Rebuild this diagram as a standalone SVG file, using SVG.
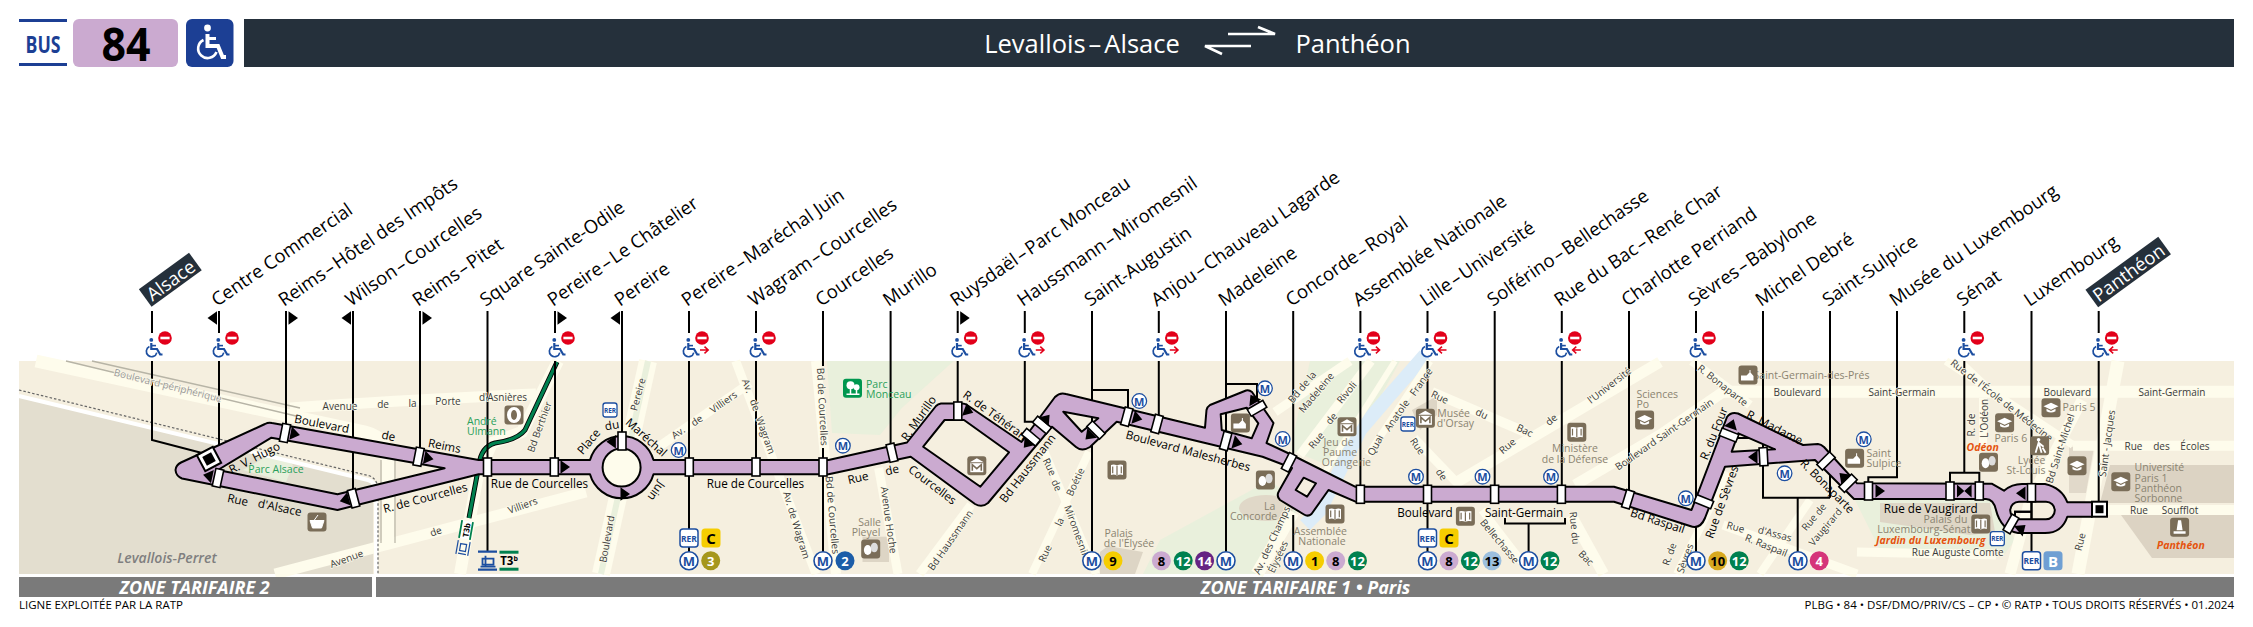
<svg xmlns="http://www.w3.org/2000/svg" xmlns:xlink="http://www.w3.org/1999/xlink" width="2253" height="627" viewBox="0 0 2253 627">
<style>
text{font-family:"Open Sans","Noto Sans","Liberation Sans",sans-serif;dominant-baseline:central}
.lb{font-size:18.5px;fill:#000;dominant-baseline:auto}
.st{font-size:10px;fill:#3a3a3a;text-anchor:middle;paint-order:stroke;stroke:#fdfaea;stroke-width:1.5px}
.bd{font-size:11.7px;fill:#000;text-anchor:middle}
.gr{font-size:10.500px;fill:#8b8471;text-anchor:middle}
.gl{font-size:10.500px;fill:#8b8471;text-anchor:start}
.gn{font-size:10.500px;fill:#2a9f5b}
.or{font-size:10.500px;fill:#e5540f;font-style:italic;font-weight:700;text-anchor:middle}
.conn{fill:none;stroke:#000;stroke-width:2}
.str{fill:none;stroke:#fefcec;stroke-linecap:butt}
.bus{fill:#cbaad0;stroke:#000;stroke-width:2;stroke-linejoin:round;fill-rule:evenodd}
.stop{fill:#fff;stroke:#000;stroke-width:1.6}
.b{font-size:13px;font-weight:700;text-anchor:middle}
.wh{fill:#fff}.bk{fill:#000}
.m{font-size:13px;font-weight:700;fill:#1c4ea0;text-anchor:middle}
.ms{font-size:11px;font-weight:700;fill:#1c4ea0;text-anchor:middle}
.rer{font-size:8.5px;font-weight:700;fill:#1c4ea0;text-anchor:middle}
.rs{font-size:6.5px;font-weight:700;fill:#1c4ea0;text-anchor:middle}
</style>
<defs>
<rect id="stop" class="stop" x="-4" y="-9" width="8" height="18"/>
<path id="tr" d="M-4.5,-6.8 L5,0 L-4.5,6.8Z"/>
<g id="wc" fill="none" stroke="#1c4ea0" stroke-width="1.7">
<circle cx="5.3" cy="1.9" r="1.9" fill="#1c4ea0" stroke="none"/>
<path d="M5.3,5 V11 H11 L14.2,16.5 H16.5" stroke-width="2.2"/><path d="M5.3,7.6 H10" stroke-width="1.6"/>
<path d="M3.4,8.6 A5.3,5.3 0 1 0 10.8,14.6"/>
</g>
<g id="ne"><circle r="6.8" fill="#e2001a"/><rect x="-4.6" y="-1.3" width="9.2" height="2.6" fill="#fff"/></g>
<path id="ar" d="M0,0 H8 M4.5,-3.4 L8.2,0 L4.5,3.4" fill="none" stroke="#e2001a" stroke-width="1.5"/>
<path id="al" d="M8,0 H0 M3.5,-3.4 L-.2,0 L3.5,3.4" fill="none" stroke="#e2001a" stroke-width="1.5"/>
<circle id="mr" r="9" fill="#fff" stroke="#1c4ea0" stroke-width="1.6"/>
<circle id="mq" r="7.3" fill="#fff" stroke="#1c4ea0" stroke-width="1.3"/>
<rect id="rr" x="-9" y="-9" width="18" height="18" rx="3" fill="#fff" stroke="#1c4ea0" stroke-width="1.5"/>
<rect id="rq" x="-7" y="-7" width="14" height="14" rx="2.5" fill="#fff" stroke="#1c4ea0" stroke-width="1.3"/>
<rect id="p" x="-9.5" y="-9.5" width="19" height="19" rx="3" fill="#7a6d58"/>
<g id="book"><use href="#p"/><path d="M-6,-5 Q-3,-6 0,-4.5 Q3,-6 6,-5 V5 Q3,4 0,5.5 Q-3,4 -6,5Z" fill="#fff"/><path d="M0,-4 V5 M-4.3,-3.6 V3.2 M4.3,-3.6 V3.2" stroke="#7a6d58" stroke-width="1.2"/></g>
<g id="grad"><use href="#p"/><path d="M-7.5,-1.5 L0,-5 L7.5,-1.5 L0,2Z" fill="#fff"/><path d="M-4.5,1 V3.5 Q0,6 4.5,3.5 V1 L0,3.2Z" fill="#fff"/></g>
<g id="church"><use href="#p"/><path d="M-7,5.5 V0.5 H-1.5 L1.5,-2.5 V-5 H2.5 V-2.5 L5.5,1 V5.5Z" fill="#fff"/></g>
<g id="masks"><use href="#p"/><ellipse cx="-3" cy="1" rx="3.8" ry="5" fill="#fff"/><ellipse cx="3.6" cy="-1.5" rx="3.6" ry="4.8" fill="#ddd"/></g>
<g id="mus"><use href="#p"/><path d="M-7,-3.5 L0,-7.5 L7,-3.5Z" fill="#fff"/><rect x="-6.5" y="-2.5" width="13" height="9" fill="#fff"/><path d="M-4.5,5 V-1 L0,3 L4.5,-1 V5" fill="none" stroke="#7a6d58" stroke-width="1.6"/></g>
</defs>
<rect width="2253" height="627" fill="#fff"/>

<g id="header">
<rect x="19" y="19" width="48" height="3" fill="#1c3f94"/><rect x="19" y="63" width="48" height="3" fill="#1c3f94"/>
<text x="43" y="43" font-size="24" font-weight="700" fill="#1c3f94" text-anchor="middle" textLength="35" lengthAdjust="spacingAndGlyphs">BUS</text>
<rect x="73" y="19" width="105" height="48" rx="6" fill="#cbaad0"/>
<text x="126" y="43" font-size="46" font-weight="700" fill="#000" text-anchor="middle" textLength="49" lengthAdjust="spacingAndGlyphs">84</text>
<rect x="186" y="19" width="47.500" height="48" rx="6" fill="#1c3f94"/>
<g transform="translate(194,24)" fill="none" stroke="#fff" stroke-width="2.6"><circle cx="13.500" cy="4" r="3.400" fill="#fff" stroke="none"/><path d="M13.500,10 V22 H24 L28.500,33 H32" stroke-width="4"/><path d="M13.500,14.500 H22" stroke-width="3"/><path d="M9.500,16 A9.500,9.500 0 1 0 22.500,28"/></g>
<rect x="244" y="19" width="1990" height="48" fill="#25303b"/>
<text x="1082" y="43" font-size="25.500" fill="#fff" text-anchor="middle">Levallois<tspan dx="3">–</tspan><tspan dx="3">Alsace</tspan></text>
<text x="1353" y="43" font-size="25.500" fill="#fff" text-anchor="middle">Panthéon</text>
<path d="M1208,56 H1240 M1208,56 L1222,47 M1272,32 H1240 M1272,32 L1258,41 M1208,45 H1240" fill="none" stroke="none"/>
<path d="M1228,34 H1275 L1258,27 M1251,46 H1205 L1222,54" fill="none" stroke="#fff" stroke-width="2.600"/>
</g>

<g id="map">
<rect x="19" y="361" width="2215" height="213" fill="#f5efdf"/>
<path d="M19,396 L368,480 Q373,482 373,490 V574 H19Z" fill="#e3decf"/>
<path d="M826.800,361 H953.600 L901.800,408 L880,435 L832,433Z" fill="#e9f0dc"/>
<path d="M243,470 L275,452 L293,465 L286,482Z" fill="#e9f0dc"/>
<path d="M1310,361 H1400 L1340,470 L1290,450Z" fill="#e9f0dc"/>
<path d="M1143,574 L1160,540 L1270,480 L1300,505 L1262,574Z" fill="#e9f0dc"/>
<path d="M1854,498 H1988 L2015,540 L2004,555 L1880,550Z" fill="#e9f0dc"/>
<path d="M1880,503 H1990 L1995,532 L1970,535 L1880,522Z" fill="#ded6c6"/>
<path d="M2121,515 H2234 V558 H2152Z" fill="#dcd3c3"/>
<path d="M2110,465 H2234 V503 H2100Z" fill="#dcd3c3"/>
<path d="M2069,447 H2094 L2086,493 H2069Z" fill="#e1d9ca"/>
<rect x="862.500" y="536.700" width="26.500" height="25.300" fill="#ddd5c5"/>
<path d="M1100,574 V552 L1108,546 L1143,552 L1135,574Z" fill="#ddd5c5"/>
<ellipse cx="1266" cy="508" rx="27" ry="13" fill="#e0d8c8"/>
<path d="M1412,410 L1437,396 V415 L1420,430Z" fill="#ddd5c5"/>
<path d="M1425,355 L1390,395 L1360,430 L1320,510 L1305,525" fill="none" stroke="#dcecf8" stroke-width="14"/>
<g class="str">
<path d="M36,361 L365,432 Q388,438 388,462" stroke-width="13"/>
<path d="M388,455 V543" stroke-width="12"/>
<path d="M290,408 Q400,400 536,394" stroke-width="11"/>
<path d="M275,574 L586,492" stroke-width="11"/>
<path d="M558,361 L522,432 L492,443 L478,474 L460,574" stroke-width="12"/>
<path d="M648,361 L601,574" stroke-width="18"/>
<path d="M750,383 L657,448" stroke-width="9"/>
<path d="M735.700,361 L816,574" stroke-width="9"/>
<path d="M816,361 L836,574" stroke-width="10"/>
<path d="M878.600,468 L898,574" stroke-width="9"/>
<path d="M971,505 L919.600,574" stroke-width="9"/>
<path d="M1044.600,451.700 L1096,574" stroke-width="8"/>
<path d="M1089,451.700 L1032,574" stroke-width="8"/>
<path d="M1275,412 L1350,361" stroke-width="9"/>
<path d="M1300,455 L1371,361" stroke-width="9"/>
<path d="M1430,361 L1368,455" stroke-width="7"/>
<path d="M1395,361 L1345,440 L1320,480" stroke-width="6"/>
<path d="M1257,574 L1293,512" stroke-width="13"/>
<path d="M1432,392 L1525,432" stroke-width="10"/>
<path d="M1457,482 L1660,362" stroke-width="11"/>
<path d="M1414,438 L1460,486" stroke-width="9"/>
<path d="M1482,510 L1525,566" stroke-width="8"/>
<path d="M1571,515 L1603.600,574" stroke-width="11"/>
<path d="M1575,485 L1660,435 L1723,392" stroke-width="11"/>
<path d="M1722,391.700 H2234" stroke-width="12"/>
<path d="M2073,445.700 H2234" stroke-width="10"/>
<path d="M2107,510 H2234" stroke-width="10"/>
<path d="M2118,361 L2078,574" stroke-width="13"/>
<path d="M2082,400 L2030,500 L2010,574" stroke-width="11"/>
<path d="M1946,361 L2073,445" stroke-width="8"/>
<path d="M1983,398 V445" stroke-width="8"/>
<path d="M1692,361 L1750,405" stroke-width="9"/>
<path d="M1723,525 L1857,574" stroke-width="9"/>
<path d="M1810,500 L1760,574" stroke-width="8"/>
<path d="M1857,552 L1996,555" stroke-width="9"/>
<path d="M1727,472 L1700,528 L1677,574" stroke-width="8"/>
<path d="M1960,362 L2000,400" stroke-width="8"/>
</g>
<path d="M648,361 L601,574" fill="none" stroke="#e9f0dc" stroke-width="6"/>
<path d="M66,361 L296,416 M92,361 L300,408" fill="none" stroke="#b7b4a6" stroke-width="1.500"/>
<path d="M381,460 V543 M395,460 V543" fill="none" stroke="#b7b4a6" stroke-width="1.200"/>
<path d="M19,396 L368,480 Q376,482 376,492 V574" fill="none" stroke="#fff" stroke-width="4"/>
<path d="M19,390 L370,476 Q378,480 378,490 V574" fill="none" stroke="#666" stroke-width="1.200" stroke-dasharray="2.500 2"/>
<rect x="19" y="577" width="353" height="20" fill="#7a7a7a"/>
<rect x="376" y="577" width="1858" height="20" fill="#7a7a7a"/>
<path d="M557,362 L525,430 Q517,440 495,443 Q481,447 479,465 L469,518" fill="none" stroke="#000" stroke-width="5"/>
<path d="M557,362 L525,430 Q517,440 495,443 Q481,447 479,465 L469,518" fill="none" stroke="#00814f" stroke-width="3.200"/>
</g>

<g id="connectors" class="conn">
<path d="M152,311 V333 M152,361 V440 L202,453"/>
<path d="M219,311 V333 M219,361 V478"/>
<path d="M286,311 V432"/>
<path d="M353,311 V498"/>
<path d="M420,311 V456"/>
<path d="M487.500,311 V552"/>
<path d="M555,311 V333 M555,361 V467"/>
<path d="M622,311 V441"/>
<path d="M689,311 V333 M689,361 V530 M689,547 V552"/>
<path d="M756,311 V333 M756,361 V467"/>
<path d="M823,311 V366 M823,448 V552"/>
<path d="M890.600,311 V452"/>
<path d="M957.700,311 V333 M957.700,361 V411"/>
<path d="M1024.800,311 V333 M1024.800,361 V421.700 H1038"/>
<path d="M1092,311 V552 M1092,390 H1128 V415"/>
<path d="M1158.800,311 V333 M1158.800,361 V424"/>
<path d="M1226,311 V552 M1226,384 H1257 V408"/>
<path d="M1293.200,311 V460 M1293.200,515 V552"/>
<path d="M1360.400,311 V333 M1360.400,361 V494"/>
<path d="M1427.500,311 V333 M1427.500,361 V552"/>
<path d="M1494.700,311 V494"/>
<path d="M1561.800,311 V333 M1561.800,361 V494"/>
<path d="M1629,311 V499"/>
<path d="M1696,311 V333 M1696,361 V552"/>
<path d="M1763,311 V497.700 H1830 M1797.700,497.700 V552"/>
<path d="M1830,311 V497.700"/>
<path d="M1897,311 V477.300 H1868.300 V491"/>
<path d="M1964.300,311 V333 M1964.300,361 V472.700 M1950,491 V472.700 H1979.300 V491"/>
<path d="M2031.500,311 V552 M2031.500,511.700 H2015 V525"/>
<path d="M2098.700,311 V333 M2098.700,361 V509"/>
<path d="M1505,518 V523.500 H1565 V518 M1528.600,523.500 V552"/>
<path d="M1738,438 H1753"/>
</g>

<g id="streets">
<text class="st" transform="translate(168,385) rotate(14)" style="fill:#999">Boulevard périphérique</text>
<text class="st" x="340" y="405.700">Avenue</text><text class="st" x="383" y="404">de</text><text class="st" x="412.500" y="402.700">la</text><text class="st" x="448" y="400.700">Porte</text><text class="st" x="503" y="397.300">d'Asnières</text>
<text class="st" transform="translate(539,426.700) rotate(-70)">Bd Berthier</text>
<text class="st" transform="translate(522.500,505) rotate(-20)">Villiers</text>
<text class="st" transform="translate(435.700,531) rotate(-20)">de</text>
<text class="st" transform="translate(346.400,558.300) rotate(-20)">Avenue</text>
<text transform="translate(167,557.300)" font-size="14" font-style="italic" font-weight="600" fill="#7f7f7f" text-anchor="middle">Levallois-Perret</text>
<text class="gn" x="276" y="468.700" text-anchor="middle">Parc Alsace</text>
<text class="gn" x="467" y="421">André</text><text class="gn" x="467" y="431">Ulmann</text>
<text class="st" transform="translate(637.500,394.300) rotate(-75)">Pereire</text>
<text class="st" transform="translate(606.400,539) rotate(-80)">Boulevard</text>
<text class="st" transform="translate(677.900,432.300) rotate(-35)">Av.</text><text class="st" transform="translate(696.400,420) rotate(-35)">de</text><text class="st" transform="translate(723.200,401.700) rotate(-35)">Villiers</text>
<text class="st" transform="translate(748,385.700) rotate(70)">Av.</text><text class="st" transform="translate(755.400,405) rotate(70)">de</text><text class="st" transform="translate(766,435) rotate(70)">Wagram</text>
<text class="st" transform="translate(797,525) rotate(73)">Av. de Wagram</text>
<text class="st" transform="translate(823,406.700) rotate(87)">Bd de Courcelles</text>
<text class="st" transform="translate(833,515) rotate(85)">Bd de Courcelles</text>
<text class="gr" x="869.600" y="522.300">Salle</text><text class="gr" x="866" y="532.300">Pleyel</text>
<text class="gn" x="866" y="384.300">Parc</text><text class="gn" x="866" y="394.300">Monceau</text>
<text class="st" transform="translate(889.300,520) rotate(82)">Avenue Hoche</text>
<text class="st" transform="translate(950,540) rotate(-55)">Bd Haussmann</text>
<text class="st" transform="translate(1050,466.700) rotate(65)">Rue</text><text class="st" transform="translate(1057,485) rotate(65)">de</text>
<text class="st" transform="translate(1075,481.700) rotate(-65)">Boétie</text>
<text class="st" transform="translate(1076.800,530) rotate(70)">Miromesnil</text>
<text class="st" transform="translate(1059,521.700) rotate(-65)">la</text><text class="st" transform="translate(1044.600,553.300) rotate(-65)">Rue</text>
<text class="gr" x="1118.600" y="533.300">Palais</text><text class="gr" x="1129" y="543.300">de l'Élysée</text>
<text class="gr" x="1269.600" y="506">La</text><text class="gr" x="1253.600" y="516">Concorde</text>
<text class="st" transform="translate(1271.400,540) rotate(-65)">Av. des Champs</text><text class="st" transform="translate(1277.500,556.700) rotate(-65)">Élysées</text>
<text class="st" transform="translate(1301.800,386.700) rotate(-50)">Bd de la</text><text class="st" transform="translate(1316,392.300) rotate(-50)">Madeleine</text>
<text class="st" transform="translate(1316,440) rotate(-50)">Rue</text><text class="st" transform="translate(1331,418.300) rotate(-50)">de</text><text class="st" transform="translate(1346.400,392.300) rotate(-50)">Rivoli</text>
<text class="gr" x="1338.600" y="442.300">Jeu de</text><text class="gr" x="1340" y="452.300">Paume</text><text class="gr" x="1346.400" y="462.300">Orangerie</text>
<text class="st" transform="translate(1375,445) rotate(-62)">Quai</text><text class="st" transform="translate(1396.400,415) rotate(-55)">Anatole</text><text class="st" transform="translate(1420.700,381.700) rotate(-55)">France</text>
<text class="gr" x="1453.600" y="413.300">Musée</text><text class="gr" x="1455.400" y="423.300">d'Orsay</text>
<text class="st" transform="translate(1440,396.700) rotate(25)">Rue</text><text class="st" transform="translate(1482,413.300) rotate(25)">du</text><text class="st" transform="translate(1525,430) rotate(25)">Bac</text>
<text class="st" transform="translate(1417.900,446) rotate(55)">Rue</text><text class="st" transform="translate(1442,474.300) rotate(55)">de</text>
<text class="st" transform="translate(1507,445.700) rotate(-40)">Rue</text><text class="st" transform="translate(1551,419.300) rotate(-40)">de</text><text class="st" transform="translate(1609,385) rotate(-38)">l'Université</text>
<text class="gr" x="1575" y="448.300">Ministère</text><text class="gr" x="1575" y="459">de la Défense</text>
<text class="gr" x="1320.400" y="531">Assemblée</text><text class="gr" x="1322" y="541">Nationale</text>
<text class="st" transform="translate(1500,541) rotate(50)">Bellechasse</text>
<text class="st" transform="translate(1575,528) rotate(85)">Rue du</text><text class="st" transform="translate(1586.400,557.700) rotate(45)">Bac</text>
<text class="gl" x="1636.400" y="394.300">Sciences</text><text class="gl" x="1636.400" y="404.300">Po</text>
<text class="st" transform="translate(1664,434) rotate(-35)">Boulevard Saint-Germain</text>
<text class="st" transform="translate(1723,385) rotate(38)">R. Bonaparte</text>
<text class="gr" x="1811.500" y="375">Saint-Germain-des-Prés</text>
<text class="st" x="1797.300" y="391.700">Boulevard</text><text class="st" x="1902" y="391.700">Saint-Germain</text><text class="st" x="2067.300" y="391.700">Boulevard</text><text class="st" x="2172" y="391.700">Saint-Germain</text>
<text class="gl" x="1866.500" y="453.300">Saint</text><text class="gl" x="1866.500" y="463.300">Sulpice</text>
<text class="st" transform="translate(1669,554) rotate(-70)">R. de</text><text class="st" transform="translate(1684.600,558.300) rotate(-70)">Sèvres</text>
<text class="st" transform="translate(1735.800,526.700) rotate(15)">Rue</text><text class="st" transform="translate(1775,533.300) rotate(15)">d'Assas</text><text class="st" transform="translate(1766.500,545) rotate(22)">R. Raspail</text>
<text class="st" transform="translate(1813.500,516.700) rotate(-50)">Rue de</text><text class="st" transform="translate(1825,526.700) rotate(-50)">Vaugirard</text>
<text class="gr" x="1945.400" y="519">Palais du</text><text class="gr" x="1923.800" y="529">Luxembourg-Sénat</text>
<text class="or" x="1930.800" y="540">Jardin du Luxembourg</text>
<text class="st" x="1957.700" y="551.700">Rue Auguste Comte</text>
<text class="st" transform="translate(2002,400) rotate(38)">Rue de l'École de Médecine</text>
<text class="st" transform="translate(1971,425) rotate(-90)">R. de</text><text class="st" transform="translate(1983.800,418.300) rotate(-90)">L'Odéon</text>
<text class="or" x="1982.700" y="447.300">Odéon</text>
<text class="gr" x="2010.800" y="437.700">Paris 6</text><text class="gr" x="2079" y="406.700">Paris 5</text>
<text class="gr" x="2031.500" y="460">Lycée</text><text class="gr" x="2026" y="470">St-Louis</text>
<text class="st" transform="translate(2059.600,448.300) rotate(-72)">Bd Saint-Michel</text>
<text class="st" transform="translate(2106.500,443.300) rotate(-82)">Saint - Jacques</text>
<text class="st" x="2133.500" y="445.700">Rue</text><text class="st" x="2161.500" y="445.700">des</text><text class="st" x="2195" y="445.700">Écoles</text>
<text class="gl" x="2134.600" y="467.300">Université</text><text class="gl" x="2134.600" y="477.500">Paris 1</text><text class="gl" x="2134.600" y="487.700">Panthéon</text><text class="gl" x="2134.600" y="498">Sorbonne</text>
<text class="st" x="2139" y="510">Rue</text><text class="st" x="2180" y="510">Soufflot</text>
<text class="or" x="2180.800" y="545">Panthéon</text>
<text class="st" transform="translate(2079.600,541.700) rotate(-75)">Rue</text>
</g>

<circle cx="621.600" cy="467.500" r="20" fill="#fefcec"/>
<g id="route">
<path class="bus" d="M175.500,470 Q176,465 181,462.500 L265,424 Q268.600,422 272,423 L478.600,460 L590,460 A33,33 0 0 1 653.500,460 L828.600,460 L907,442.500 L936,406 Q938,404 941,403.500 L962,403.500 Q965,403.500 967,405 L1021.500,442 L1055,397 Q1060,392 1066,394 L1205,427.700 L1206.500,410 Q1207,407 1210,405 L1246,390.500 Q1249,389.500 1252,392 L1273.500,423 L1266.500,443 L1291,454.500 L1355,486.700 L1614,486.700 L1691.500,510 L1727,417 Q1731,411.500 1738,413.500 L1803,445 L1818,444 Q1821,444.200 1824,447 L1857,483.300 L1991.700,483.700 L2004,490.700 Q2012,484 2022,484 L2045,484 Q2062,488 2067.300,502.200 L2092,502.200 L2092,516.700 L2067.300,516.700 Q2062,533 2045,533 L2018,533 Q2001,530 1996,510 Q1993.500,499 1986,499 L1854,499 L1815,460 L1725,466.700 L1705,518 Q1700,530 1690,526 L1614,501.700 L1355.500,501.700 L1328.500,490 L1311.500,514 Q1308,517 1304,514.500 L1280,500 Q1276,496 1279,491 L1292,468 L1262.500,456.700 L1116.700,421.700 L1090,447 Q1082,452 1076,447 L1052,426.700 L988,503 Q982,508 975,504 L910.700,456.700 L828.600,474.300 L653.500,474.300 A33,33 0 0 1 590,474.300 L478.600,474.300 L337.500,510 L182,478.500 Q176,476 175.500,470Z
M271.400,437.700 L444.600,468.300 L337.500,494.300 L217.900,470Z
M944.600,420 L964,420 L1009,452.300 L980.400,486.700 L923.200,446.700Z
M1063.300,411.700 L1098.300,418.300 L1081.700,431.700Z
M1220.700,414.300 L1246.700,407.700 L1258.300,423.300 L1251.700,438.300 L1221.700,430Z
M1303.600,477.700 L1316,483.300 L1307,496.700 L1295.700,490Z
M1738.300,433.300 L1775,449.300 L1731.700,451.700Z
M2019,501.700 H2046 A8.800,8.800 0 0 1 2046,519.300 H2019 A8.800,8.800 0 0 1 2019,501.700Z
M602.600,467.500 A19,19 0 1 0 640.600,467.500 A19,19 0 1 0 602.600,467.500Z"/>
<path d="M2031.500,501.700 V519.300 M2031.500,511.700 H2015 V519" fill="none" stroke="#000" stroke-width="2"/>
<rect x="2092" y="501.700" width="15" height="15" fill="#fff" stroke="#000" stroke-width="2"/><rect x="2095.500" y="505.200" width="8" height="8" fill="#000"/>
</g>

<g id="road-labels">
<text class="bd" transform="translate(254,457) rotate(-27)">R. V. Hugo</text>
<text class="bd" transform="translate(322,423) rotate(11)">Boulevard</text>
<text class="bd" transform="translate(388.600,435) rotate(11)">de</text>
<text class="bd" transform="translate(444.600,445) rotate(11)">Reims</text>
<text class="bd" transform="translate(238,499) rotate(12)">Rue</text>
<text class="bd" transform="translate(280,506.700) rotate(12)">d'Alsace</text>
<text class="bd" transform="translate(425,497) rotate(-15)">R. de Courcelles</text>
<text class="bd" x="539.500" y="482.700">Rue de Courcelles</text>
<text class="bd" transform="translate(588,441) rotate(-50)">Place</text>
<text class="bd" transform="translate(611.800,424.300) rotate(-10)">du</text>
<text class="bd" transform="translate(647,436.700) rotate(42)">Maréchal</text>
<text class="bd" transform="translate(657,491.700) rotate(125)">Juin</text>
<text class="bd" x="755.400" y="482.700">Rue de Courcelles</text>
<text class="bd" transform="translate(857.900,477) rotate(-13)">Rue</text>
<text class="bd" transform="translate(891.800,469) rotate(-13)">de</text>
<text class="bd" transform="translate(933,484) rotate(37)">Courcelles</text>
<text class="bd" transform="translate(917.900,417.700) rotate(-55)">R. Murillo</text>
<text class="bd" transform="translate(995.500,414.500) rotate(36)">R. de Téhéran</text>
<text class="bd" transform="translate(1026.800,467.700) rotate(-52)">Bd Haussmann</text>
<text class="bd" transform="translate(1188.300,450) rotate(15)">Boulevard Malesherbes</text>
<text class="bd" x="1425" y="511.700">Boulevard</text>
<text class="bd" x="1524" y="511.700">Saint-Germain</text>
<text class="bd" transform="translate(1658,520) rotate(18)">Bd Raspail</text>
<text class="bd" transform="translate(1713,433) rotate(-68)">R. du Four</text>
<text class="bd" transform="translate(1775,426.700) rotate(27)">R. Madame</text>
<text class="bd" transform="translate(1721,501.700) rotate(-70)">Rue de Sèvres</text>
<text class="bd" transform="translate(1828,485.500) rotate(45)">R. Bonaparte</text>
<text class="bd" x="1930.800" y="508">Rue de Vaugirard</text>
</g>

<g id="pois">
<g transform="translate(317,522)"><use href="#p"/><path d="M-7,-1.500 H7 L4.500,6 H-4.500Z M-3,-1.500 L1,-7" fill="#fff" stroke="#fff"/></g>
<g transform="translate(514,415)"><use href="#p"/><ellipse rx="7" ry="8" fill="#fff"/><ellipse rx="3" ry="5" fill="#7a6d58"/></g>
<g transform="translate(852.500,388.300)"><rect x="-9.500" y="-9.500" width="19" height="19" rx="3" fill="#00974f"/><circle cx="-2" cy="-3" r="4" fill="#fff"/><circle cx="4" cy="-1" r="3" fill="#fff"/><path d="M-2,-2 V6 M4,0 V6 M-6,6 H7" stroke="#fff" stroke-width="1.500"/></g>
<use href="#mus" x="976.800" y="465.700"/>
<use href="#masks" x="870.700" y="549"/>
<use href="#book" x="1117" y="470"/>
<use href="#church" x="1240.400" y="423"/>
<use href="#masks" x="1265.400" y="480"/>
<use href="#book" x="1335" y="514"/>
<use href="#mus" x="1347" y="426.700"/>
<use href="#mus" x="1425.400" y="418.300"/>
<use href="#book" x="1465.400" y="516.300"/>
<use href="#book" x="1576.800" y="432.300"/>
<use href="#grad" x="1644.600" y="420"/>
<use href="#church" x="1748" y="375"/>
<use href="#church" x="1854.600" y="458.300"/>
<use href="#grad" x="2004.600" y="422.700"/>
<use href="#masks" x="1988.500" y="462.300"/>
<g transform="translate(2039.600,445.700)"><use href="#p"/><circle cx="-1" cy="-6" r="1.800" fill="#fff"/><path d="M-4,7 L-1,-3 L2,7 M-1,-3 L4,1 M3,2 L6,7" fill="none" stroke="#fff" stroke-width="1.800"/></g>
<use href="#grad" x="2051" y="407.700"/>
<use href="#grad" x="2077" y="465.700"/>
<use href="#grad" x="2120.800" y="481.700"/>
<use href="#book" x="1980.800" y="524"/>
<g transform="translate(2179.600,527.300)"><use href="#p"/><path d="M-1.500,-7 H1.500 L3,3 H-3Z M-6,4 H6 V6.500 H-6Z" fill="#fff"/></g>
<use href="#mq" x="678.600" y="450"/><text class="ms" x="678.600" y="450">M</text>
<use href="#mq" x="842.900" y="445.700"/><text class="ms" x="842.900" y="445.700">M</text>
<use href="#mq" x="1139.300" y="401"/><text class="ms" x="1139.300" y="401">M</text>
<use href="#mq" x="1265" y="388.300"/><text class="ms" x="1265" y="388.300">M</text>
<use href="#mq" x="1282.700" y="439"/><text class="ms" x="1282.700" y="439">M</text>
<use href="#mq" x="1416" y="476.700"/><text class="ms" x="1416" y="476.700">M</text>
<use href="#mq" x="1482.500" y="476.700"/><text class="ms" x="1482.500" y="476.700">M</text>
<use href="#mq" x="1551" y="476.700"/><text class="ms" x="1551" y="476.700">M</text>
<use href="#mq" x="1685.800" y="498.300"/><text class="ms" x="1685.800" y="498.300">M</text>
<use href="#mq" x="1784.600" y="473.300"/><text class="ms" x="1784.600" y="473.300">M</text>
<use href="#mq" x="1863.800" y="439.300"/><text class="ms" x="1863.800" y="439.300">M</text>
<use href="#rq" x="610" y="410"/><text class="rs" x="610" y="410">RER</text>
<use href="#rq" x="1407.900" y="424"/><text class="rs" x="1407.900" y="424">RER</text>
<use href="#rq" x="1997.300" y="538.700"/><text class="rs" x="1997.300" y="538.700">RER</text>
</g>

<g id="t3b-branch">
<g transform="translate(466,530) rotate(-80)"><rect x="-9" y="-5" width="18" height="10" fill="#fff"/><path d="M-9,-5.500 H9 M-9,5.500 H9" stroke="#00814f" stroke-width="1.800"/><text x="0" y="0" font-size="8" font-weight="700" text-anchor="middle">T3b</text></g>
<g transform="translate(463,548) rotate(10)" fill="none" stroke="#1c4ea0" stroke-width="1.200"><path d="M-6,-7 V7 M6,-7 V7 M-3,-4 H3 V3 H-3Z M-4,6 H4"/></g>
</g>

<g id="interchanges">
<g transform="translate(487.500,560.700)" fill="none" stroke="#1c4ea0" stroke-width="1.800"><path d="M-9.500,-9 H9.500 M-9.500,9 H9.500" stroke-width="2.200"/><path d="M-5,-2 H6 V4 H-5Z M-2,-5 V5 M-7,6 H8"/></g>
<g transform="translate(509,560.700)"><rect x="-9.500" y="-10" width="19" height="3" fill="#00814f"/><rect x="-9.500" y="7" width="19" height="3" fill="#00814f"/><text x="0" y="0" font-size="11.500" font-weight="700" text-anchor="middle">T3<tspan font-size="7" dy="-3">b</tspan></text></g>
<use href="#rr" x="689" y="538"/><text class="rer" x="689" y="538">RER</text>
<rect x="701.500" y="528.500" width="19" height="19" rx="3.500" fill="#f6cd00"/><text class="b" x="711" y="538" style="font-size:15px">C</text>
<use href="#mr" x="689" y="560.700"/><text class="m" x="689" y="560.700">M</text>
<circle cx="710.700" cy="560.700" r="9.500" fill="#a6971c"/><text class="b wh" x="710.700" y="560.700">3</text>
<use href="#mr" x="823" y="560.700"/><text class="m" x="823" y="560.700">M</text>
<circle cx="845" cy="560.700" r="9.500" fill="#1c5da8"/><text class="b wh" x="845" y="560.700">2</text>
<use href="#mr" x="1091.800" y="560.700"/><text class="m" x="1091.800" y="560.700">M</text>
<circle cx="1113" cy="560.700" r="9.500" fill="#f6cd00"/><text class="b bk" x="1113" y="560.700">9</text>
<circle cx="1161.400" cy="560.700" r="9.500" fill="#cbaad0"/><text class="b bk" x="1161.400" y="560.700">8</text>
<circle cx="1183.200" cy="560.700" r="9.500" fill="#00814f"/><text class="b wh" x="1183.200" y="560.700">12</text>
<circle cx="1204.600" cy="560.700" r="9.500" fill="#662483"/><text class="b wh" x="1204.600" y="560.700">14</text>
<use href="#mr" x="1226" y="560.700"/><text class="m" x="1226" y="560.700">M</text>
<use href="#mr" x="1293.200" y="560.700"/><text class="m" x="1293.200" y="560.700">M</text>
<circle cx="1314.600" cy="560.700" r="9.500" fill="#f6cd00"/><text class="b bk" x="1314.600" y="560.700">1</text>
<circle cx="1335.700" cy="560.700" r="9.500" fill="#cbaad0"/><text class="b bk" x="1335.700" y="560.700">8</text>
<circle cx="1357.500" cy="560.700" r="9.500" fill="#00814f"/><text class="b wh" x="1357.500" y="560.700">12</text>
<use href="#rr" x="1427.500" y="538"/><text class="rer" x="1427.500" y="538">RER</text>
<rect x="1439.500" y="528.500" width="19" height="19" rx="3.500" fill="#f6cd00"/><text class="b" x="1449" y="538" style="font-size:15px">C</text>
<use href="#mr" x="1427.500" y="560.700"/><text class="m" x="1427.500" y="560.700">M</text>
<circle cx="1449" cy="560.700" r="9.500" fill="#cbaad0"/><text class="b bk" x="1449" y="560.700">8</text>
<circle cx="1470.400" cy="560.700" r="9.500" fill="#00814f"/><text class="b wh" x="1470.400" y="560.700">12</text>
<circle cx="1492" cy="560.700" r="9.500" fill="#9cbfde"/><text class="b bk" x="1492" y="560.700">13</text>
<use href="#mr" x="1528.600" y="560.700"/><text class="m" x="1528.600" y="560.700">M</text>
<circle cx="1550" cy="560.700" r="9.500" fill="#00814f"/><text class="b wh" x="1550" y="560.700">12</text>
<use href="#mr" x="1696" y="560.700"/><text class="m" x="1696" y="560.700">M</text>
<circle cx="1717.700" cy="560.700" r="9.500" fill="#d8a91f"/><text class="b bk" x="1717.700" y="560.700">10</text>
<circle cx="1739.200" cy="560.700" r="9.500" fill="#00814f"/><text class="b wh" x="1739.200" y="560.700">12</text>
<use href="#mr" x="1798" y="560.700"/><text class="m" x="1798" y="560.700">M</text>
<circle cx="1819.200" cy="560.700" r="9.500" fill="#d5357a"/><text class="b wh" x="1819.200" y="560.700">4</text>
<use href="#rr" x="2031.500" y="560.700"/><text class="rer" x="2031.500" y="560.700">RER</text>
<rect x="2043.500" y="551.200" width="19" height="19" rx="3.500" fill="#6f9fd3"/><text class="b wh" x="2053" y="560.700" style="font-size:15px">B</text>
</g>

<g id="st-alsace"><rect x="-31" y="-10.800" width="62" height="21.600" fill="#25303b" transform="translate(170.300,279.700) rotate(-36)"/><text transform="translate(170.300,279.700) rotate(-36)" font-size="18.500" fill="#fff" text-anchor="middle">Alsace</text><use href="#wc" x="146" y="338"/><use href="#ne" x="165" y="338"/><g transform="translate(209,459) rotate(-28)"><rect x="-9" y="-9" width="18" height="18" fill="#fff" stroke="#000" stroke-width="2"/><rect x="-5" y="-5" width="10" height="10" fill="#000"/></g></g>
<g id="st-centre-commercial"><text class="lb" transform="translate(217,307) rotate(-34.500)">Centre Commercial</text><use href="#tr" transform="translate(212.500,318) rotate(180)"/><use href="#wc" x="213" y="338"/><use href="#ne" x="232" y="338"/><use href="#stop" transform="translate(218,478) rotate(12)"/><use href="#tr" transform="translate(208,475.700) rotate(192)"/></g>
<g id="st-reims-hotel"><text class="lb" transform="translate(284,307) rotate(-34.500)">Reims<tspan dx="2">–</tspan><tspan dx="2">Hôtel des Impôts</tspan></text><use href="#tr" transform="translate(293,318)"/><use href="#stop" transform="translate(285,433) rotate(11)"/><use href="#tr" transform="translate(295,434) rotate(11)"/></g>
<g id="st-wilson"><text class="lb" transform="translate(351,307) rotate(-34.500)">Wilson<tspan dx="2">–</tspan><tspan dx="2">Courcelles</tspan></text><use href="#tr" transform="translate(346.500,318) rotate(180)"/><use href="#stop" transform="translate(353.600,498.300) rotate(-15)"/><use href="#tr" transform="translate(344.600,500) rotate(165)"/></g>
<g id="st-reims-pitet"><text class="lb" transform="translate(418,307) rotate(-34.500)">Reims<tspan dx="2">–</tspan><tspan dx="2">Pitet</tspan></text><use href="#tr" transform="translate(427,318)"/><use href="#stop" transform="translate(418.600,456.700) rotate(11)"/><use href="#tr" transform="translate(428.600,458.300) rotate(11)"/></g>
<g id="st-square"><text class="lb" transform="translate(485.500,307) rotate(-34.500)">Square Sainte-Odile</text><use href="#stop" transform="translate(487.500,467)"/></g>
<g id="st-pereire-chatelier"><text class="lb" transform="translate(553,307) rotate(-34.500)">Pereire<tspan dx="2">–</tspan><tspan dx="2">Le Châtelier</tspan></text><use href="#tr" transform="translate(562,318)"/><use href="#wc" x="549" y="338"/><use href="#ne" x="568" y="338"/><use href="#stop" transform="translate(554.300,467)"/><use href="#tr" transform="translate(565,467)"/></g>
<g id="st-pereire"><text class="lb" transform="translate(620,307) rotate(-34.500)">Pereire</text><use href="#tr" transform="translate(615.500,318) rotate(180)"/><use href="#stop" transform="translate(622,441)"/><use href="#tr" transform="translate(611.400,441.700) rotate(180)"/><use href="#tr" transform="translate(625,494)"/></g>
<g id="st-pereire-marechal"><text class="lb" transform="translate(687,307) rotate(-34.500)">Pereire<tspan dx="2">–</tspan><tspan dx="2">Maréchal Juin</tspan></text><use href="#wc" x="683" y="338"/><use href="#ne" x="702" y="338"/><use href="#ar" x="700" y="350"/><use href="#stop" transform="translate(689.300,467)"/></g>
<g id="st-wagram"><text class="lb" transform="translate(754,307) rotate(-34.500)">Wagram<tspan dx="2">–</tspan><tspan dx="2">Courcelles</tspan></text><use href="#wc" x="750" y="338"/><use href="#ne" x="769" y="338"/><use href="#stop" transform="translate(756,467)"/></g>
<g id="st-courcelles"><text class="lb" transform="translate(821,307) rotate(-34.500)">Courcelles</text><use href="#stop" transform="translate(823,467)"/></g>
<g id="st-murillo"><text class="lb" transform="translate(888.500,307) rotate(-34.500)">Murillo</text><use href="#stop" transform="translate(892,452.700) rotate(-13)"/></g>
<g id="st-ruysdael"><text class="lb" transform="translate(955.700,307) rotate(-34.500)">Ruysdaël<tspan dx="2">–</tspan><tspan dx="2">Parc Monceau</tspan></text><use href="#tr" transform="translate(964.700,318)"/><use href="#wc" x="951.700" y="338"/><use href="#ne" x="970.700" y="338"/><use href="#stop" transform="translate(957.800,411)"/><use href="#tr" transform="translate(968.600,411) rotate(20)"/></g>
<g id="st-haussmann"><text class="lb" transform="translate(1022.800,307) rotate(-34.500)">Haussmann<tspan dx="2">–</tspan><tspan dx="2">Miromesnil</tspan></text><use href="#wc" x="1018.800" y="338"/><use href="#ne" x="1037.800" y="338"/><use href="#ar" x="1035.800" y="350"/><use href="#stop" transform="translate(1031,437.300) rotate(-50)"/><use href="#stop" transform="translate(1042,425) rotate(-50)"/><use href="#tr" transform="translate(1027,444) rotate(130)"/><use href="#tr" transform="translate(1046.400,418.500) rotate(-50)"/></g>
<g id="st-saint-augustin"><text class="lb" transform="translate(1090,307) rotate(-34.500)">Saint-Augustin</text><use href="#stop" transform="translate(1096,430) rotate(-45)"/><use href="#tr" transform="translate(1089,436) rotate(135)"/><use href="#stop" transform="translate(1126.800,416.700) rotate(15)"/><use href="#tr" transform="translate(1137.500,418.300) rotate(15)"/></g>
<g id="st-anjou"><text class="lb" transform="translate(1156.800,307) rotate(-34.500)">Anjou<tspan dx="2">–</tspan><tspan dx="2">Chauveau Lagarde</tspan></text><use href="#wc" x="1152.800" y="338"/><use href="#ne" x="1171.800" y="338"/><use href="#ar" x="1169.800" y="350"/><use href="#stop" transform="translate(1157,424) rotate(15)"/></g>
<g id="st-madeleine"><text class="lb" transform="translate(1224,307) rotate(-34.500)">Madeleine</text><use href="#stop" transform="translate(1225.700,441) rotate(15)"/><use href="#tr" transform="translate(1237.500,443) rotate(15)"/><use href="#stop" transform="translate(1257,408.300) rotate(60)"/><use href="#tr" transform="translate(1253,399) rotate(-120)"/></g>
<g id="st-concorde"><text class="lb" transform="translate(1291.200,307) rotate(-34.500)">Concorde<tspan dx="2">–</tspan><tspan dx="2">Royal</tspan></text><use href="#stop" transform="translate(1289,462.300) rotate(27)"/></g>
<g id="st-assemblee"><text class="lb" transform="translate(1358.400,307) rotate(-34.500)">Assemblée Nationale</text><use href="#wc" x="1354.400" y="338"/><use href="#ne" x="1373.400" y="338"/><use href="#ar" x="1371.400" y="350"/><use href="#stop" transform="translate(1360.400,494.300)"/></g>
<g id="st-lille"><text class="lb" transform="translate(1425.500,307) rotate(-34.500)">Lille<tspan dx="2">–</tspan><tspan dx="2">Université</tspan></text><use href="#wc" x="1421.500" y="338"/><use href="#ne" x="1440.500" y="338"/><use href="#al" x="1438.500" y="350"/><use href="#stop" transform="translate(1427.500,494.300)"/></g>
<g id="st-solferino"><text class="lb" transform="translate(1492.700,307) rotate(-34.500)">Solférino<tspan dx="2">–</tspan><tspan dx="2">Bellechasse</tspan></text><use href="#stop" transform="translate(1494.600,494.300)"/></g>
<g id="st-rue-du-bac"><text class="lb" transform="translate(1559.800,307) rotate(-34.500)">Rue du Bac<tspan dx="2">–</tspan><tspan dx="2">René Char</tspan></text><use href="#wc" x="1555.800" y="338"/><use href="#ne" x="1574.800" y="338"/><use href="#al" x="1572.800" y="350"/><use href="#stop" transform="translate(1561.400,494.300)"/></g>
<g id="st-charlotte"><text class="lb" transform="translate(1627,307) rotate(-34.500)">Charlotte Perriand</text><use href="#stop" transform="translate(1628,499.300) rotate(17)"/></g>
<g id="st-sevres"><text class="lb" transform="translate(1694,307) rotate(-34.500)">Sèvres<tspan dx="2">–</tspan><tspan dx="2">Babylone</tspan></text><use href="#wc" x="1690" y="338"/><use href="#ne" x="1709" y="338"/><use href="#stop" transform="translate(1703.800,501.700) rotate(112)"/></g>
<g id="st-michel-debre"><text class="lb" transform="translate(1761,307) rotate(-34.500)">Michel Debré</text><use href="#stop" transform="translate(1729,435) rotate(112)"/><use href="#tr" transform="translate(1732,424) rotate(-70)"/><use href="#stop" transform="translate(1763.500,456.700) rotate(-3)"/><use href="#tr" transform="translate(1753,457) rotate(180)"/></g>
<g id="st-saint-sulpice"><text class="lb" transform="translate(1828,307) rotate(-34.500)">Saint-Sulpice</text><use href="#stop" transform="translate(1826,461) rotate(45)"/><use href="#stop" transform="translate(1848,483.300) rotate(45)"/><use href="#tr" transform="translate(1843,476.500) rotate(-135)"/></g>
<g id="st-musee"><text class="lb" transform="translate(1895,307) rotate(-34.500)">Musée du Luxembourg</text><use href="#stop" transform="translate(1868.500,491)"/><use href="#tr" transform="translate(1880,491)"/></g>
<g id="st-senat"><text class="lb" transform="translate(1962.300,307) rotate(-34.500)">Sénat</text><use href="#wc" x="1958.300" y="338"/><use href="#ne" x="1977.300" y="338"/><use href="#stop" transform="translate(1950,491)"/><use href="#stop" transform="translate(1979.300,491)"/><path d="M1957,484.500 L1964.300,491 L1957,497.500Z M1971.600,484.500 L1964.300,491 L1971.600,497.500Z" fill="#000"/></g>
<g id="st-luxembourg"><text class="lb" transform="translate(2029.500,307) rotate(-34.500)">Luxembourg</text><use href="#stop" transform="translate(2031.500,492.700)"/><use href="#tr" transform="translate(2021,493.300) rotate(180)"/><use href="#stop" transform="translate(2011,524) rotate(30)"/><use href="#tr" transform="translate(2021.700,528.300) rotate(-40)"/></g>
<g id="st-pantheon"><rect x="-45" y="-10.800" width="90" height="21.600" fill="#25303b" transform="translate(2128.200,272) rotate(-36)"/><text transform="translate(2128.200,272) rotate(-36)" font-size="18.500" fill="#fff" text-anchor="middle">Panthéon</text><use href="#wc" x="2092.700" y="338"/><use href="#ne" x="2111.700" y="338"/><use href="#al" x="2109.700" y="350"/></g>

<g id="zones">
<text x="194.600" y="587.300" font-size="18" font-weight="700" font-style="italic" fill="#fff" text-anchor="middle">ZONE TARIFAIRE 2</text>
<text x="1305.500" y="587.300" font-size="18" font-weight="700" font-style="italic" fill="#fff" text-anchor="middle">ZONE TARIFAIRE 1 • Paris</text>
<text x="19" y="604.500" font-size="11.500" fill="#000">LIGNE EXPLOITÉE PAR LA RATP</text>
<text x="2234" y="604.500" font-size="11.500" fill="#000" text-anchor="end">PLBG • 84 • DSF/DMO/PRIV/CS – CP • © RATP • TOUS DROITS RÉSERVÉS • 01.2024</text>
</g>
</svg>
